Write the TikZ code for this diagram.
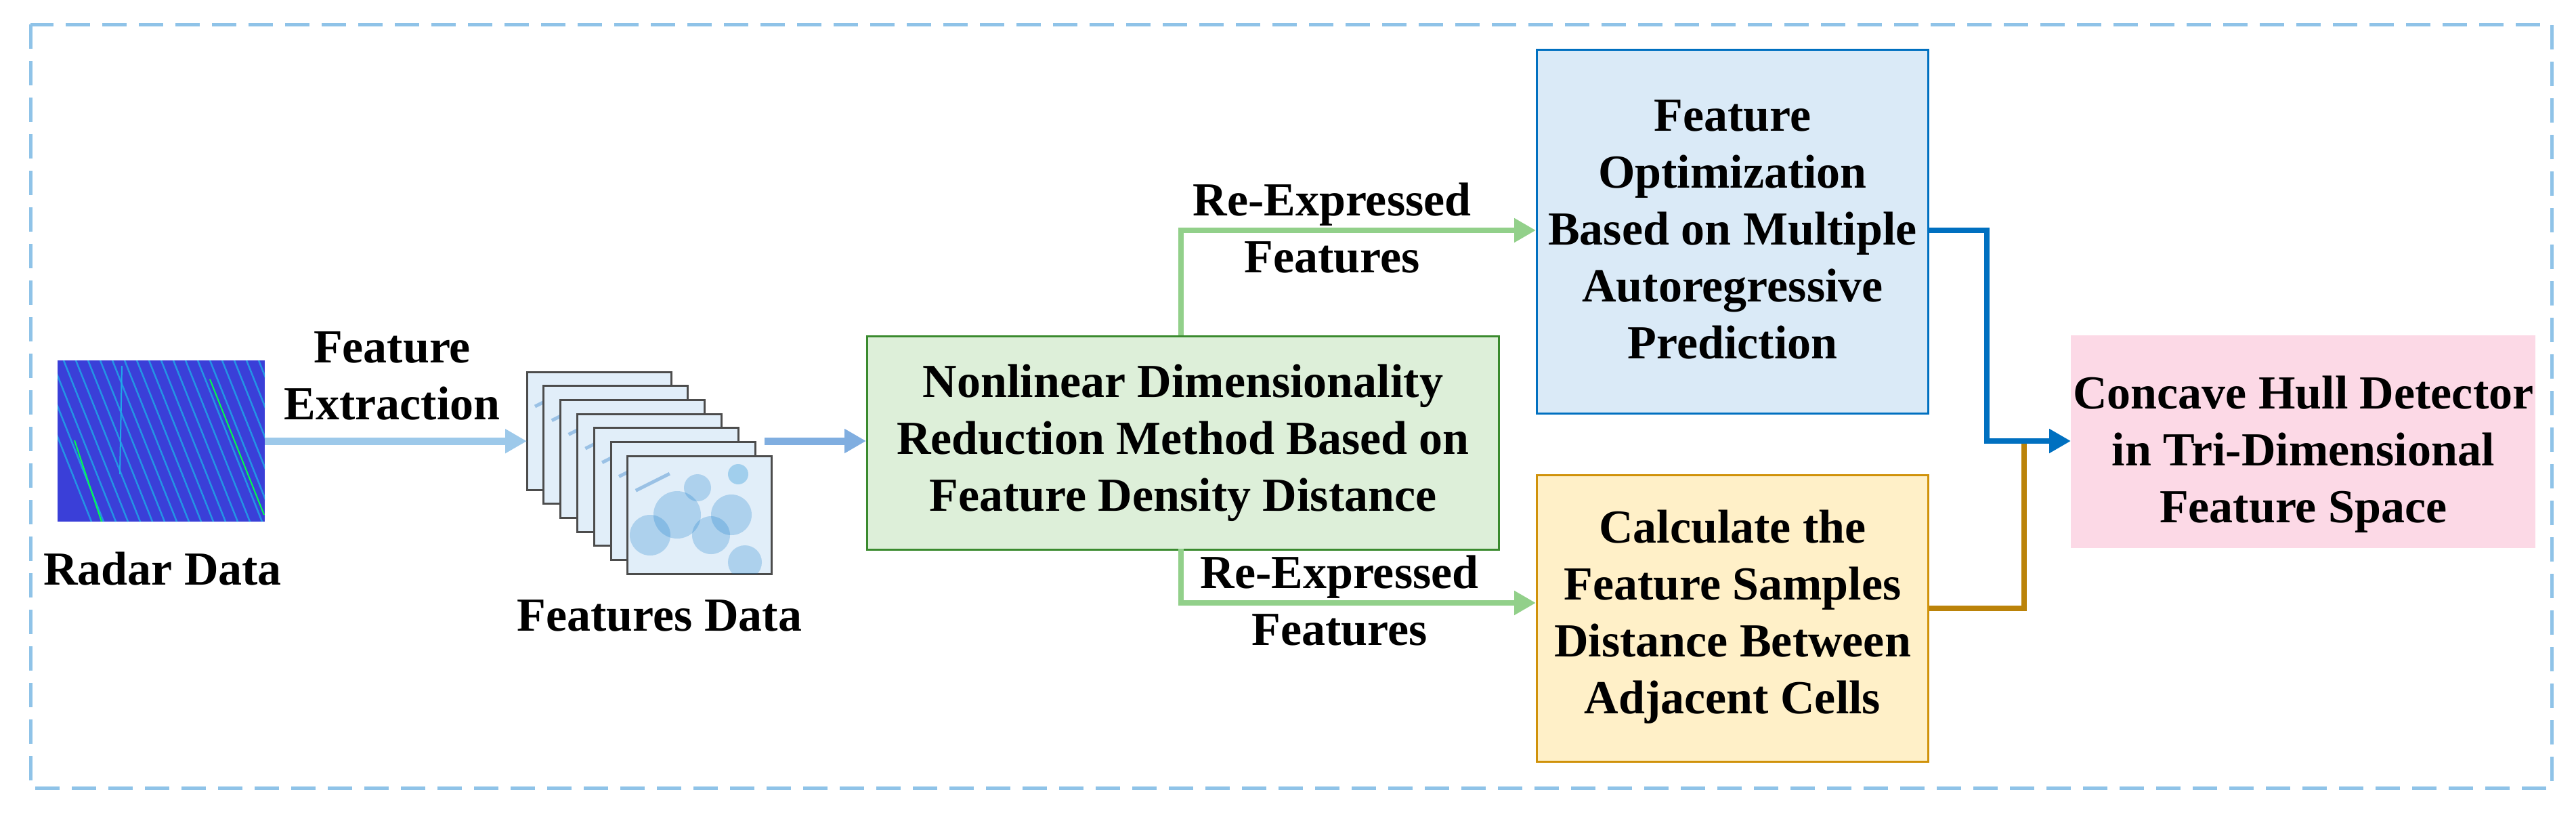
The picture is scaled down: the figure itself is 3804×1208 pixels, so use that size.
\documentclass[tikz,border=0pt]{standalone}
\usepackage{fontspec}
\setmainfont{Liberation Serif}
\usetikzlibrary{arrows.meta}
\definecolor{frameC}{HTML}{8FC3E8}
\definecolor{arrC}{HTML}{9DC9EA}
\definecolor{arrB}{HTML}{80AEE0}
\definecolor{grnL}{HTML}{92D08A}
\definecolor{grnF}{HTML}{DDEFD9}
\definecolor{grnD}{HTML}{3A8A2E}
\definecolor{bluF}{HTML}{DAEAF7}
\definecolor{bluD}{HTML}{0070C0}
\definecolor{orF}{HTML}{FFF0C8}
\definecolor{orD}{HTML}{D0920A}
\definecolor{pkF}{HTML}{FCD9E6}
\definecolor{radar}{HTML}{3A3FD8}
\definecolor{radarL}{HTML}{1FA8E8}
\begin{document}
\begin{tikzpicture}[x=1pt,y=-1pt,
  txt/.style={font=\fontsize{70}{84}\selectfont\bfseries,align=center,inner sep=0},
  box/.style={draw,line width=3pt,inner sep=0},
  arr/.style={-{Triangle[length=32pt,width=34pt]}}]
\useasboundingbox (0,0) rectangle (3804,1208);
\draw[frameC,line width=5pt,dash pattern=on 36pt off 18pt] (45,36) rectangle (3768,1163);
% radar image
\node[fill=radar,minimum width=306pt,minimum height=238pt,inner sep=0,anchor=north west] (radar) at (85,532) {};
\begin{scope}
\clip (85,532) rectangle (391,770);
\foreach \i in {0,...,22}{
  \draw[radarL,line width=2.5pt,opacity=0.8] ({40+\i*18},532) -- ({40+\i*18+95},770);
}
\draw[green!70!cyan,line width=2pt] (310,560) -- (390,760);
\draw[green!70!cyan,line width=2pt] (110,650) -- (150,770);
\draw[radarL,line width=2pt] (180,540) -- (177,700);
\end{scope}
\node[txt] (radarT) at (240,840) {Radar Data};
% feature stack
\foreach \k in {0,...,6}{
  \fill[bluF!80!white,draw=black!70,line width=3pt] ({778+\k*24.8},{549+\k*20.7}) rectangle ({991+\k*24.8},{723+\k*20.7});
  \draw[cyan!50!blue,opacity=0.35,line width=5pt] ({790+\k*24.8},{600+\k*20.7}) -- ({840+\k*24.8},{575+\k*20.7});
}
\begin{scope}
\clip (927,673) rectangle (1138,846);
\foreach \p/\r in {{(1000,760)/35},{(1050,790)/28},{(1080,760)/30},{(1100,830)/25},{(960,790)/30},{(1030,720)/20}}{
  \fill[cyan!60!blue,opacity=0.25] \p circle (\r);
}
\fill[cyan!70!blue,opacity=0.3] (1090,700) circle (15);
\end{scope}
\node[inner sep=0,minimum width=360pt,minimum height=297pt,anchor=north west] (stack) at (778,549) {};
\node[txt] (featT) at (974,909) {Features Data};
\node[txt] (fe) at (579,555) {Feature\\Extraction};
% boxes
\node[box,draw=grnD,fill=grnF,minimum width=933pt,minimum height=315pt,anchor=north west] (nl) at (1279,495) {};
\node[txt] at (nl.center) {Nonlinear Dimensionality\\Reduction Method Based on\\Feature Density Distance};
\node[box,draw=bluD,fill=bluF,minimum width=578pt,minimum height=537pt,anchor=north west] (fo) at (2268,72) {};
\node[txt] at ([yshift=3pt]fo.center) {Feature\\Optimization\\Based on Multiple\\Autoregressive\\Prediction};
\node[box,draw=orD,fill=orF,minimum width=578pt,minimum height=423pt,anchor=north west] (cf) at (2268,700) {};
\node[txt] at ([yshift=2pt]cf.center) {Calculate the\\Feature Samples\\Distance Between\\Adjacent Cells};
\node[fill=pkF,minimum width=686pt,minimum height=314pt,inner sep=0,anchor=north west] (ch) at (3058,495) {};
\node[txt] at ([yshift=-18pt]ch.center) {Concave Hull Detector\\in Tri-Dimensional\\Feature Space};
% connectors
\draw[arr,arrC,line width=11pt] (radar.east) -- (stack.west |- radar.east);
\draw[arr,arrB,line width=11pt] (1129,651) coordinate (s2) -- (nl.west |- s2);
\draw[arr,grnL,line width=8pt] (1744,495) coordinate (g1) -- (1744,340) -- (fo.west |- 0,340);
\draw[arr,grnL,line width=8pt] (1744,810) coordinate (g2) -- (1744,890) -- (cf.west |- 0,890);
\node[txt] (l1) at (1967,337) {Re-Expressed\\Features};
\node[txt] (l2) at (1978,887) {Re-Expressed\\Features};
\draw[orD!90!black,line width=8pt] (cf.east |- 0,898) -- (2989,898) -- (2989,651);
\draw[arr,bluD,line width=8pt] (fo.east |- 0,340) -- (2934,340) -- (2934,651) -- (ch.west |- 0,651);
\end{tikzpicture}
\end{document}
